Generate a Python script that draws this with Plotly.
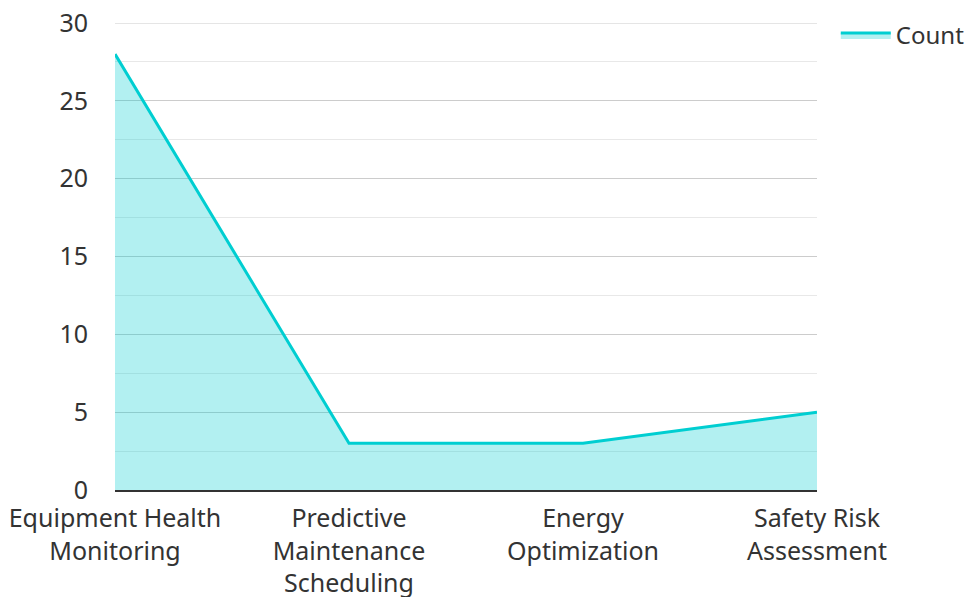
import plotly.graph_objects as go

categories = ["Equipment Health<br>Monitoring", "Predictive<br>Maintenance<br>Scheduling",
              "Energy<br>Optimization", "Safety Risk<br>Assessment"]
counts = [28, 3, 3, 5]
series_name = "Count"
y_max = 30

fig = go.Figure()
fig.add_trace(go.Scatter(
    x=categories, y=counts, name=series_name, mode="lines",
    line=dict(color="#00CED1", width=3),
    fill="tozeroy", fillcolor="rgba(0,206,209,0.3)",
))
fig.add_hline(y=y_max, line=dict(color="#cccccc", width=1), layer="below")

fig.update_layout(
    width=975, height=597,
    margin=dict(l=107, r=166, t=15, b=115),
    paper_bgcolor="white", plot_bgcolor="white",
    font=dict(family="Noto Sans, Open Sans, sans-serif", size=25, color="#333333"),
    showlegend=True,
    legend=dict(xref="container", yref="container", x=0.849, y=0.9916,
                xanchor="left", yanchor="top", itemwidth=50,
                font=dict(size=24, color="#333333"), bgcolor="rgba(0,0,0,0)"),
    xaxis=dict(type="category", range=[0, 3], showgrid=False, showline=True,
               linecolor="#333333", linewidth=2, ticks="", zeroline=False,
               ticklabelstandoff=5, automargin=False),
    yaxis=dict(range=[0, y_max], tick0=0, dtick=5, showgrid=True, gridcolor="#cccccc",
               gridwidth=1, zeroline=False, showline=False, ticks="",
               ticklabelstandoff=26, ticklabeloverflow="allow", automargin=False,
               minor=dict(dtick=2.5, showgrid=True, gridcolor="#e8e8e8", gridwidth=1)),
)

fig.write_html("out.html")
